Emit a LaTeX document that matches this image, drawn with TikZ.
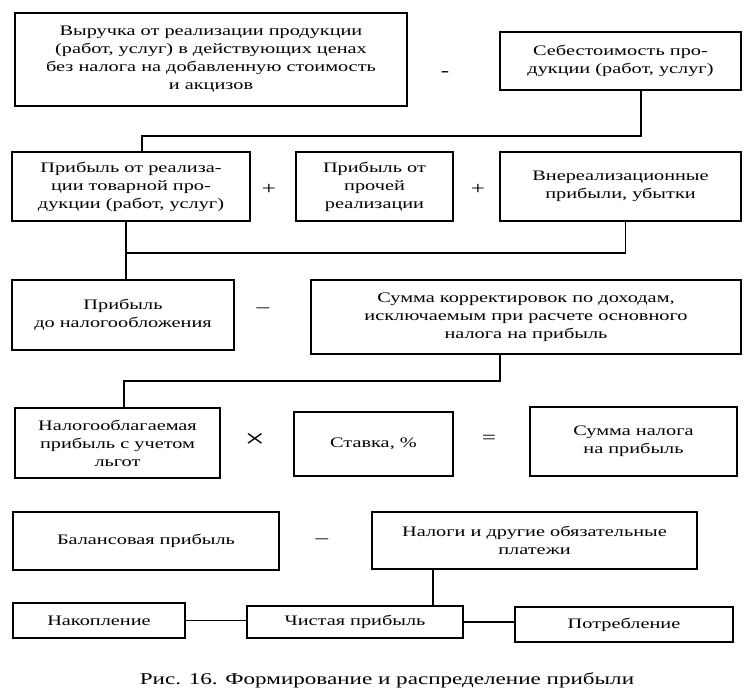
\documentclass[tikz,border=0pt]{standalone}
\usepackage{fontspec}
\setmainfont[FakeStretch=1.4]{Liberation Serif}
\usetikzlibrary{positioning}
\tikzset{block/.style={draw,line width=1.4pt,align=center,inner sep=2pt,
                       font=\fontsize{14.5}{18}\selectfont},
         sign/.style={font=\fontsize{18}{18}\selectfont},
         link/.style={line width=1.4pt}}

\begin{document}
\begin{tikzpicture}[x=1pt,y=-1pt]
        \useasboundingbox[fill=white](0,0) rectangle (744,696);

        \node[block, minimum width=392, minimum height=93](vyr)at(211,59.5){Выручка от реализации продукции\\(работ, услуг) в действующих ценах\\без налога на добавленную стоимость\\и акцизов};
        \node[block, minimum width=241, minimum height=58](seb)at(620.5,61){Себестоимость про-\\дукции (работ, услуг)};
        \node[sign](m1)at(445,74){-};

        \node[block, minimum width=238, minimum height=69](preal)at(131,186.5){Прибыль от реализа-\\ции товарной про-\\дукции (работ, услуг)};
        \node[block, minimum width=157, minimum height=69](pproch)at(374.5,186.5){Прибыль от\\прочей\\реализации};
        \node[block, minimum width=241, minimum height=69](pvner)at(620.5,186.5){Внереализационные\\прибыли, убытки};
        \node[sign](p1)at(269,189){+};
        \node[sign](p2)at(478,189){+};

        \node[block, minimum width=222, minimum height=70](pdo)at(123,315){Прибыль\\до налогообложения};
        \node[block, minimum width=430, minimum height=74](korr)at(526,317){Сумма корректировок по доходам,\\исключаемым при расчете основного\\налога на прибыль};
        \node[sign](m2)at(263,310){–};

        \node[block, minimum width=205, minimum height=70](nobl)at(117.5,443){Налогооблагаемая\\прибыль с учетом\\льгот};
        \node[block, minimum width=159, minimum height=64](stavka)at(373.5,444){Ставка, \%};
        \node[block, minimum width=207, minimum height=69](snal)at(633.5,441.5){Сумма налога\\на прибыль};
        \node[sign, font=\fontsize{26}{26}\selectfont](x1)at(255,441){×};
        \node[sign](e1)at(489,439){=};

        \node[block, minimum width=266, minimum height=58](bal)at(146,541){Балансовая прибыль};
        \node[block, minimum width=325, minimum height=57](nalogi)at(534.5,540.5){Налоги и другие обязательные\\платежи};
        \node[sign](m3)at(322,541){–};

        \node[block, minimum width=172, minimum height=35](nakop)at(99,620.5){Накопление};
        \node[block, minimum width=216, minimum height=32](chist)at(355,622){Чистая прибыль};
        \node[block, minimum width=218, minimum height=35](potr)at(624,624.5){Потребление};

        \coordinate (j1) at (142,136);
        \coordinate (j2) at (126,253);
        \coordinate (j3) at (124,381);

        \draw[link]([xshift=20.5]seb.south) |- (j1) -- (j1 |- preal.north);
        \draw[link]([xshift=5]pvner.south) |- (j2);
        \draw[link](j2 |- preal.south) -- (j2 |- pdo.north);
        \draw[link]([xshift=-26]korr.south) |- (j3) -- (j3 |- nobl.north);
        \draw[link]([xshift=78]chist.north) -- ([xshift=78]chist.north |- nalogi.south);
        \draw[link](nakop.east) -- (nakop.east -| chist.west);
        \draw[link](chist.east) -- (chist.east -| potr.west);

        \node[font=\fontsize{16.5}{18}\selectfont](caption)at(387,680){Рис. 16. Формирование и распределение прибыли};
    \end{tikzpicture}
\end{document}
